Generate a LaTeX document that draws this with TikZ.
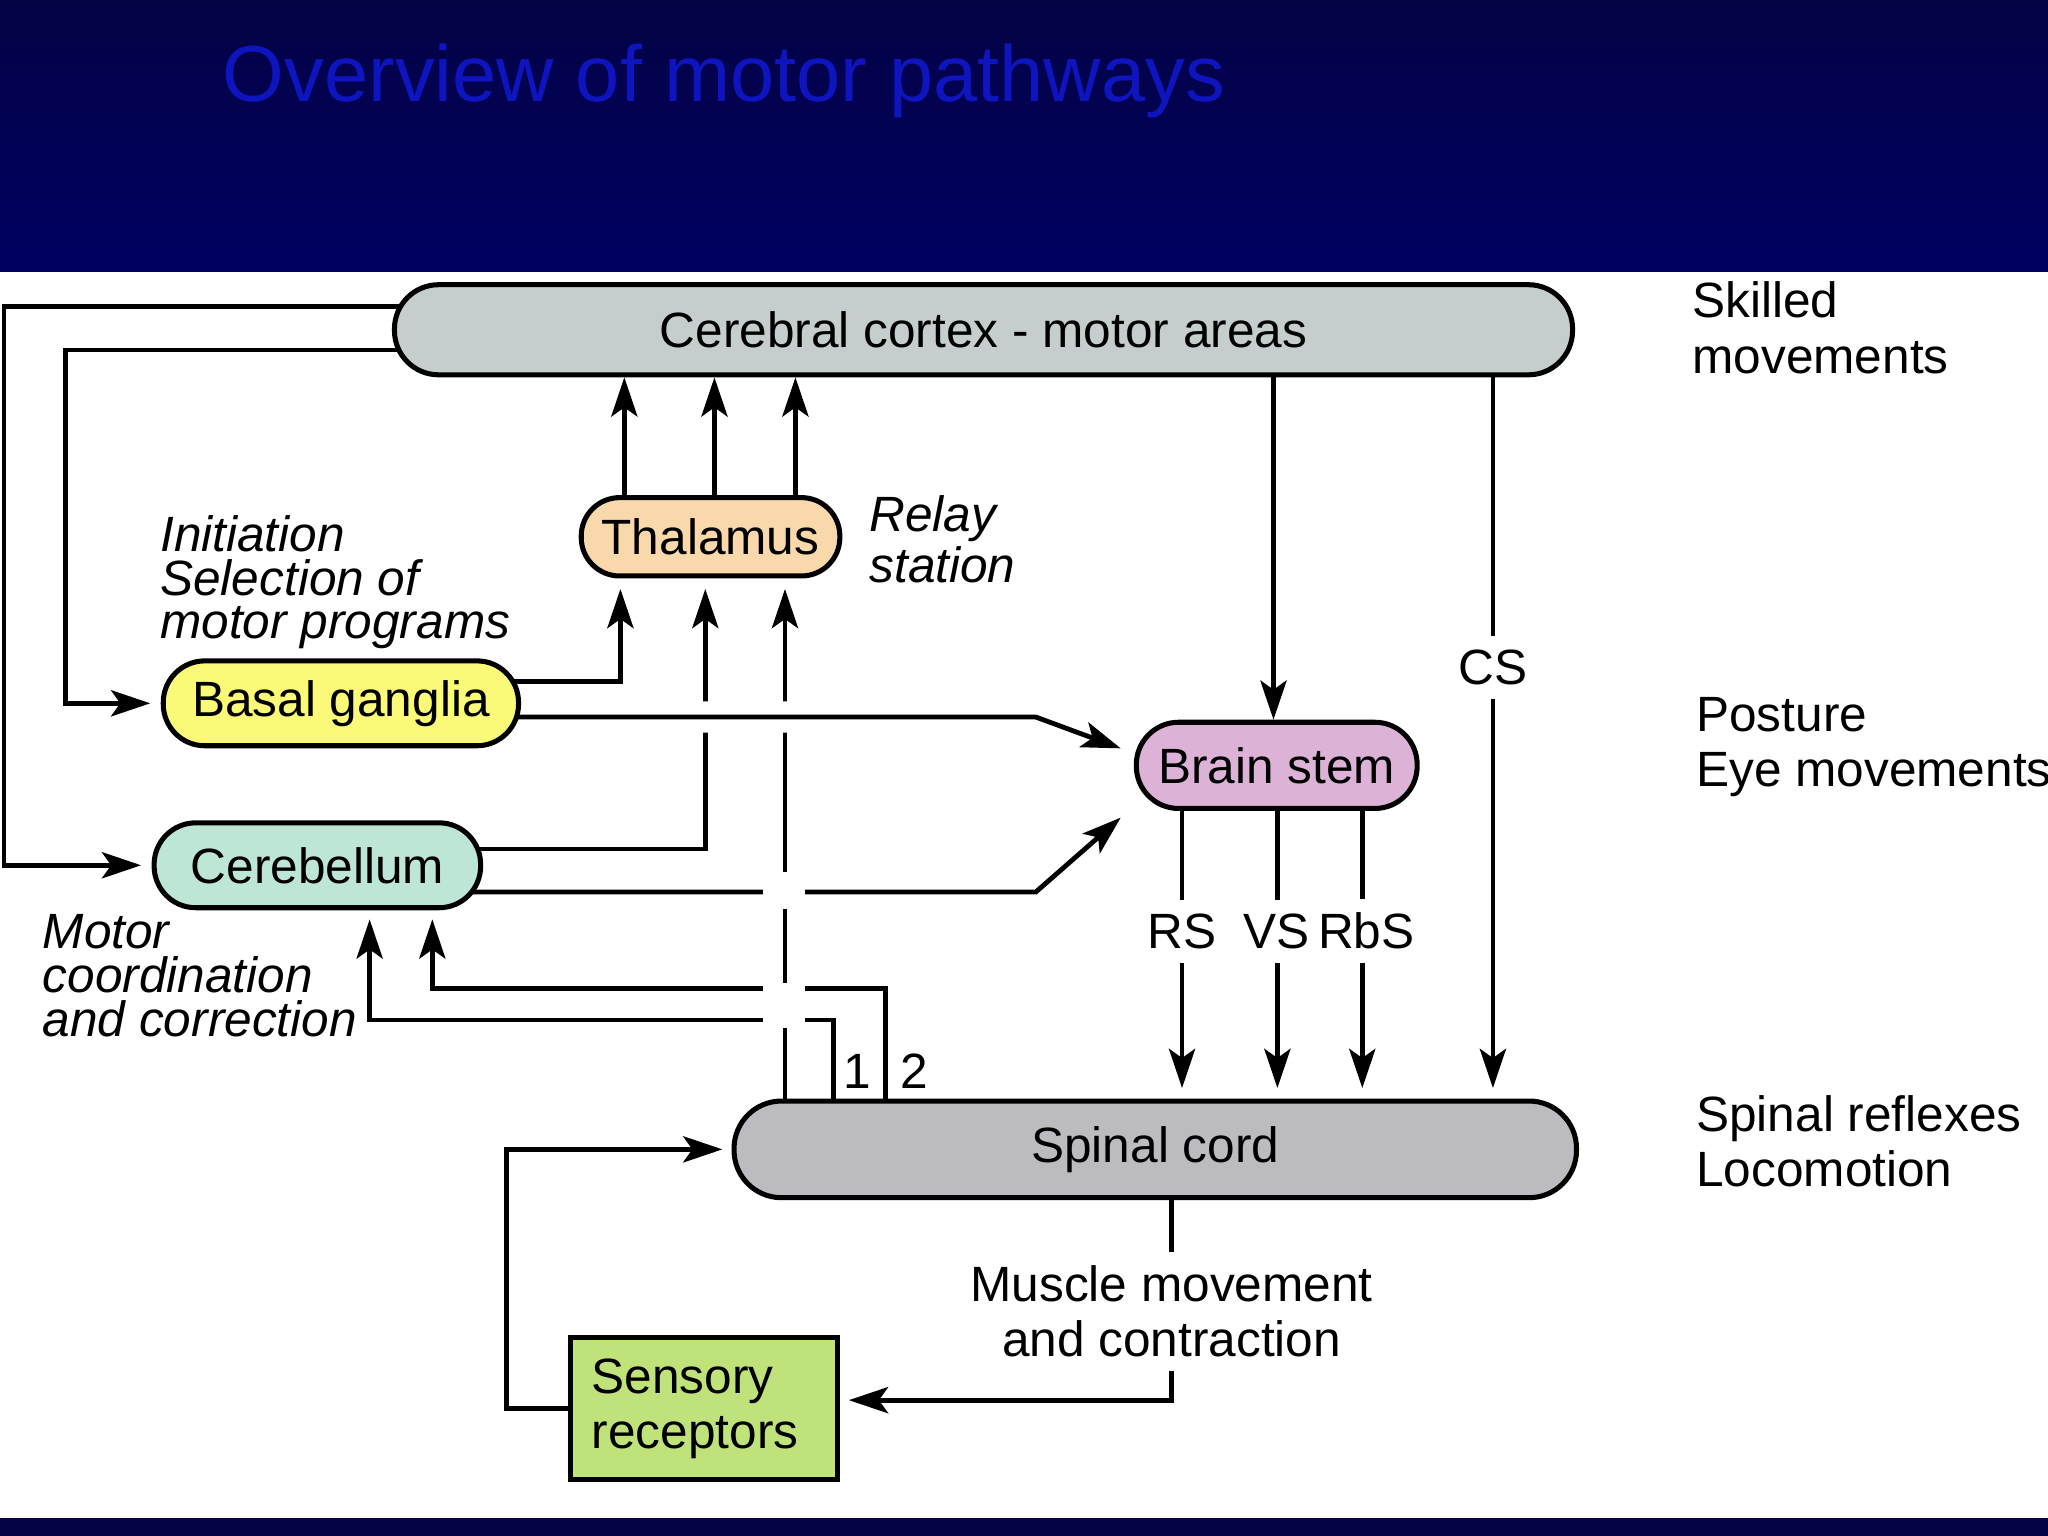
\documentclass[tikz,border=0pt]{standalone}
\usepackage{fontspec}
\setmainfont{Liberation Sans}
\usetikzlibrary{arrows.meta,calc,backgrounds}

\definecolor{navytop}{RGB}{3,3,70}
\definecolor{navybottom}{RGB}{0,0,98}
\definecolor{titleblue}{RGB}{14,20,190}
\definecolor{cortexgray}{RGB}{197,205,205}
\definecolor{thalpeach}{RGB}{249,216,172}
\definecolor{bgyellow}{RGB}{250,250,120}
\definecolor{cbmint}{RGB}{190,230,215}
\definecolor{bslilac}{RGB}{220,178,215}
\definecolor{scgray}{RGB}{188,188,192}
\definecolor{srgreen}{RGB}{192,226,122}

\begin{document}
\begin{tikzpicture}[
        font=\fontsize{10.8}{12}\selectfont,
        region/.style={
            draw,
            line width=1.1pt,
            inner sep=0pt,
            minimum height=#1,
            rounded corners={#1*0.49}
        },
        note/.style={
            align=left,
            anchor=west,
            inner sep=0pt,
            font=\fontsize{10.8}{9.5}\selectfont\itshape
        },
        side/.style={
            align=left,
            anchor=west,
            inner sep=0pt
        },
        tract/.style={
            line width=1.05pt,
            -{Stealth[length=3mm,width=2mm,inset=0.7mm]}
        },
        halo/.style={
            preaction={draw=white, line width=0.24cm, -}
        },
        tag/.style={fill=white, inner xsep=1pt, inner ysep=3pt}
    ]
    \useasboundingbox (0,0) rectangle (15.68,11.76);
    % Hintergrund
    \begin{pgfonlayer}{background}
        \fill[white] (0,0) rectangle (15.68,11.76);
        \shade[top color=navytop, bottom color=navybottom] (0,9.68) rectangle (15.68,11.76);
        \fill[navytop] (0,0) rectangle (15.68,0.14);
    \end{pgfonlayer}
    \node[anchor=base west, inner sep=0pt, text=titleblue,
        font=\fontsize{17.3}{20}\selectfont] (title) at (1.70,10.98)
        {Overview of motor pathways};
    % Regionen
    \node[region=0.69cm, fill=cortexgray, minimum width=9.02cm] (ctx) at (7.53,9.235)
        {Cerebral cortex - motor areas};
    \node[region=0.60cm, fill=thalpeach, minimum width=1.98cm] (tha) at (5.44,7.65)
        {Thalamus};
    \node[region=0.65cm, fill=bgyellow, minimum width=2.72cm] (bg) at (2.61,6.375)
        {Basal ganglia};
    \node[region=0.65cm, fill=cbmint, minimum width=2.50cm] (cb) at (2.43,5.135)
        {Cerebellum};
    \node[region=0.66cm, fill=bslilac, minimum width=2.15cm] (bs) at (9.775,5.90)
        {Brain stem};
    \node[region=0.74cm, fill=scgray, minimum width=6.45cm] (sc) at (8.845,2.96)
        {Spinal cord};
    \node[draw, line width=1.1pt, fill=srgreen, align=left, text width=1.72cm,
        inner sep=0.16cm, minimum height=1.03cm] (sr) at (5.39,0.975)
        {Sensory\\receptors};
    % Beschriftungen
    \node[note] (init) at (1.22,7.30) {Initiation\\Selection of\\motor programs};
    \node[note] (relay) at (6.65,7.63) {Relay\\station};
    \node[note] (coord) at (0.32,4.29) {Motor\\coordination\\and correction};
    \node[side] (skill) at (12.95,9.25) {Skilled\\movements};
    \node[side] (post) at (12.98,6.04) {Posture\\Eye movements};
    \node[side] (refl) at (12.98,3.02) {Spinal reflexes\\Locomotion};
    \node[tag] (cs) at (11.43,6.65) {CS};
    \node[tag] (rs) at (9.05,4.63) {RS};
    \node[tag] (vs) at (9.77,4.63) {VS};
    \node[tag] (rbs) at (10.46,4.63) {RbS};
    \node (one) at (6.56,3.56) {1};
    \node (two) at (7.00,3.56) {2};
    \node[tag, inner xsep=3pt, align=center] (muscle) at (8.97,1.72)
        {Muscle movement\\and contraction};
    % Verbindungen
    \begin{pgfonlayer}{background}
        \draw[tract, shorten >=0.8mm] (ctx.center |- 0,9.41) -- (0.03,9.41) |- (cb.west);
        \draw[tract, shorten >=0.8mm] (ctx.center |- 0,9.08) -- (0.50,9.08) |- (bg.west);
        \foreach \x in {4.78,5.47,6.09}
            \draw[tract] (tha.north -| \x,0) -- (ctx.south -| \x,0);
        \draw[tract, shorten >=0.8mm] (bg.center |- 0,6.54) -| (tha.south -| 4.75,0);
        \draw[tract, shorten >=0.8mm] (cb.center |- 0,5.26) -| (tha.south -| 5.40,0);
        \draw[tract, shorten >=0.8mm] (sc.north -| 6.01,0) -- (tha.south -| 6.01,0);
        \draw[tract] (cb.center |- 0,4.93) -- (7.93,4.93) -- ($(bs.west)+(-0.10,-0.40)$);
        \draw[tract, shorten >=0.7mm] (sc.north -| 6.38,0) |- (2.83,3.95) -- (cb.south -| 2.83,0);
        \draw[tract, shorten >=0.7mm] (sc.north -| 6.78,0) |- (3.31,4.19) -- (cb.south -| 3.31,0);
        % Kreuzungen
        \fill[white] (5.84,4.80) rectangle (6.16,5.08);
        \fill[white] (5.84,3.89) rectangle (6.16,4.23);
        \draw[tract, halo] (bg.center |- 0,6.27) -- (7.93,6.27) -- ($(bs.west)+(-0.10,0.13)$);
        % absteigende Bahnen
        \draw[tract] (ctx.south -| 9.75,0) -- (bs.north -| 9.75,0);
        \draw[tract, shorten >=0.8mm] (ctx.south -| 11.43,0) -- (sc.north -| 11.43,0);
        \foreach \x in {9.05,9.78,10.43}
            \draw[tract, shorten >=0.8mm] (bs.south -| \x,0) -- (sc.north -| \x,0);
        % Rueckkopplung
        \draw[tract, shorten >=0.7mm] (sc.south -| 8.97,0) -- (8.97,1.04) -- (sr.east |- 0,1.04);
        \draw[tract, shorten >=0.7mm] (sr.west) -- ++(-0.47,0) |- (sc.west);
    \end{pgfonlayer}
\end{tikzpicture}
\end{document}
